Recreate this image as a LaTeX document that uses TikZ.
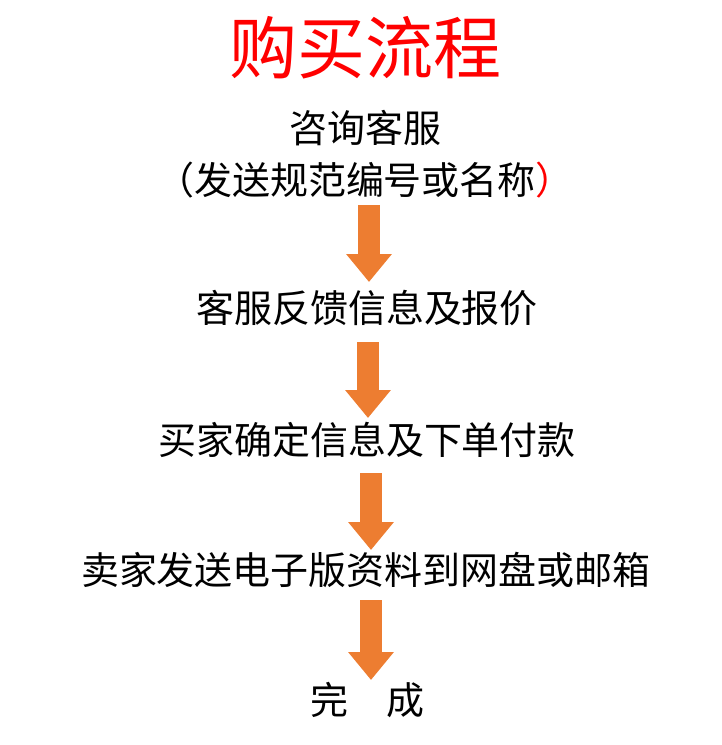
\documentclass[tikz,border=0pt]{standalone}
\usepackage{fontspec}
\newfontfamily\cjk{Noto Sans CJK SC}
\usetikzlibrary{arrows.meta}
\definecolor{arr}{HTML}{ED7D31}
\tikzset{
  txt/.style={font=\cjk\fontsize{38}{40}\selectfont, inner sep=0pt, anchor=center},
  fat/.style={draw=arr, line width=22pt, -{Triangle[width=44pt,length=28pt]}, arr}
}
\begin{document}
\begin{tikzpicture}[x=1pt,y=1pt]
\useasboundingbox (0,0) rectangle (721,-745);
\node[font=\cjk\fontsize{68}{70}\selectfont, text=red, inner sep=0pt] (title) at (365,-48) {购买流程};
\node[txt] (a1) at (365,-128) {咨询客服};
\node[txt] (a2) at (365,-180) {（发送规范编号或名称\textcolor{red}{）}};
\node[txt] (b) at (367,-308) {客服反馈信息及报价};
\node[txt] (c) at (367,-440) {买家确定信息及下单付款};
\node[txt] (d) at (366,-570) {卖家发送电子版资料到网盘或邮箱};
\node[txt] (e) at (367,-700) {完\hspace{38pt}成};
\coordinate (s1) at (369,-205); \coordinate (t1) at (369,-282);
\coordinate (s2) at (368,-342); \coordinate (t2) at (368,-418);
\coordinate (s3) at (371,-473); \coordinate (t3) at (371,-550);
\coordinate (s4) at (371,-600); \coordinate (t4) at (371,-680);
\draw[fat] (s1) -- (t1);
\draw[fat] (s2) -- (t2);
\draw[fat] (s3) -- (t3);
\draw[fat] (s4) -- (t4);
\end{tikzpicture}
\end{document}
